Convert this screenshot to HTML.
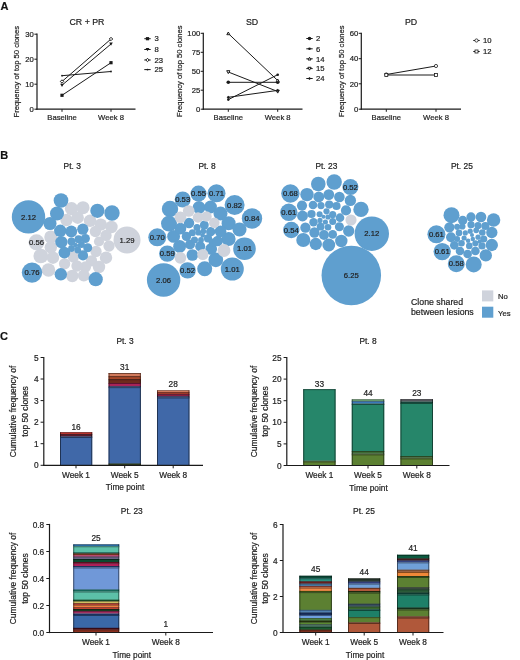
<!DOCTYPE html>
<html lang="en">
<head>
<meta charset="utf-8">
<title>Figure: TCR clone frequencies</title>
<style>
html,body{margin:0;padding:0;background:#fff;}
body{width:520px;height:660px;overflow:hidden;}
svg{display:block;filter:blur(0.4px);font-family:"Liberation Sans",Arial,Helvetica,sans-serif;fill:#222222;}
text{stroke:#222222;stroke-width:0.2px;}
</style>
</head>
<body>
<svg width="520" height="660" viewBox="0 0 520 660">
<rect x="0" y="0" width="520" height="660" fill="#ffffff"/>
<text x="0.60" y="9.80" font-size="11" text-anchor="start" font-weight="bold" fill="#111">A</text>
<line x1="37.00" y1="33.60" x2="37.00" y2="109.80" stroke="#1a1a1a" stroke-width="1.2"/>
<line x1="36.40" y1="109.20" x2="135.50" y2="109.20" stroke="#1a1a1a" stroke-width="1.2"/>
<line x1="34.40" y1="34.20" x2="37.00" y2="34.20" stroke="#1a1a1a" stroke-width="1.0"/>
<text x="33.90" y="36.95" font-size="7.7" text-anchor="end">30</text>
<line x1="34.40" y1="59.20" x2="37.00" y2="59.20" stroke="#1a1a1a" stroke-width="1.0"/>
<text x="33.90" y="61.95" font-size="7.7" text-anchor="end">20</text>
<line x1="34.40" y1="84.20" x2="37.00" y2="84.20" stroke="#1a1a1a" stroke-width="1.0"/>
<text x="33.90" y="86.95" font-size="7.7" text-anchor="end">10</text>
<line x1="34.40" y1="109.20" x2="37.00" y2="109.20" stroke="#1a1a1a" stroke-width="1.0"/>
<text x="33.90" y="111.95" font-size="7.7" text-anchor="end">0</text>
<line x1="62.00" y1="109.20" x2="62.00" y2="111.80" stroke="#1a1a1a" stroke-width="1.0"/>
<line x1="111.00" y1="109.20" x2="111.00" y2="111.80" stroke="#1a1a1a" stroke-width="1.0"/>
<text x="62.00" y="119.80" font-size="7.7" text-anchor="middle">Baseline</text>
<text x="111.00" y="119.80" font-size="7.7" text-anchor="middle">Week 8</text>
<text x="87.00" y="25.00" font-size="8.8" text-anchor="middle">CR + PR</text>
<text x="19.20" y="71.70" font-size="7.6" text-anchor="middle" transform="rotate(-90 19.20 71.70)">Frequency of top 50 clones</text>
<line x1="62.00" y1="95.30" x2="111.00" y2="62.70" stroke="#1a1a1a" stroke-width="1.0"/>
<line x1="62.00" y1="85.20" x2="111.00" y2="44.00" stroke="#1a1a1a" stroke-width="1.0"/>
<line x1="62.00" y1="81.50" x2="111.00" y2="39.00" stroke="#1a1a1a" stroke-width="1.0"/>
<line x1="62.00" y1="75.70" x2="111.00" y2="71.50" stroke="#1a1a1a" stroke-width="1.0"/>
<rect x="60.40" y="93.70" width="3.2" height="3.2" fill="#1a1a1a"/>
<rect x="109.40" y="61.10" width="3.2" height="3.2" fill="#1a1a1a"/>
<path d="M60.20 83.80L63.80 83.80L62.00 87.00Z" fill="#1a1a1a"/>
<path d="M109.20 42.60L112.80 42.60L111.00 45.80Z" fill="#1a1a1a"/>
<path d="M62.00 79.80L63.70 81.50L62.00 83.20L60.30 81.50Z" fill="#fff" stroke="#1a1a1a" stroke-width="1"/>
<path d="M111.00 37.30L112.70 39.00L111.00 40.70L109.30 39.00Z" fill="#fff" stroke="#1a1a1a" stroke-width="1"/>
<circle cx="62.00" cy="75.70" r="0.9" fill="#1a1a1a"/>
<circle cx="111.00" cy="71.50" r="0.9" fill="#1a1a1a"/>
<line x1="144.30" y1="38.70" x2="150.70" y2="38.70" stroke="#1a1a1a" stroke-width="1.0"/>
<rect x="145.90" y="37.10" width="3.2" height="3.2" fill="#1a1a1a"/>
<text x="154.50" y="41.40" font-size="7.7" text-anchor="start">3</text>
<line x1="144.30" y1="49.50" x2="150.70" y2="49.50" stroke="#1a1a1a" stroke-width="1.0"/>
<path d="M145.70 48.10L149.30 48.10L147.50 51.30Z" fill="#1a1a1a"/>
<text x="154.50" y="52.20" font-size="7.7" text-anchor="start">8</text>
<line x1="144.30" y1="60.00" x2="150.70" y2="60.00" stroke="#1a1a1a" stroke-width="1.0"/>
<path d="M147.50 58.30L149.20 60.00L147.50 61.70L145.80 60.00Z" fill="#fff" stroke="#1a1a1a" stroke-width="1"/>
<text x="154.50" y="62.70" font-size="7.7" text-anchor="start">23</text>
<line x1="144.30" y1="69.60" x2="150.70" y2="69.60" stroke="#1a1a1a" stroke-width="1.0"/>
<circle cx="147.50" cy="69.60" r="0.9" fill="#1a1a1a"/>
<text x="154.50" y="72.30" font-size="7.7" text-anchor="start">25</text>
<line x1="203.30" y1="32.70" x2="203.30" y2="109.80" stroke="#1a1a1a" stroke-width="1.2"/>
<line x1="202.70" y1="109.20" x2="302.50" y2="109.20" stroke="#1a1a1a" stroke-width="1.2"/>
<line x1="200.70" y1="33.30" x2="203.30" y2="33.30" stroke="#1a1a1a" stroke-width="1.0"/>
<text x="200.20" y="36.05" font-size="7.7" text-anchor="end">100</text>
<line x1="200.70" y1="52.30" x2="203.30" y2="52.30" stroke="#1a1a1a" stroke-width="1.0"/>
<text x="200.20" y="55.05" font-size="7.7" text-anchor="end">75</text>
<line x1="200.70" y1="71.30" x2="203.30" y2="71.30" stroke="#1a1a1a" stroke-width="1.0"/>
<text x="200.20" y="74.05" font-size="7.7" text-anchor="end">50</text>
<line x1="200.70" y1="90.20" x2="203.30" y2="90.20" stroke="#1a1a1a" stroke-width="1.0"/>
<text x="200.20" y="92.95" font-size="7.7" text-anchor="end">25</text>
<line x1="200.70" y1="109.20" x2="203.30" y2="109.20" stroke="#1a1a1a" stroke-width="1.0"/>
<text x="200.20" y="111.95" font-size="7.7" text-anchor="end">0</text>
<line x1="228.30" y1="109.20" x2="228.30" y2="111.80" stroke="#1a1a1a" stroke-width="1.0"/>
<line x1="277.70" y1="109.20" x2="277.70" y2="111.80" stroke="#1a1a1a" stroke-width="1.0"/>
<text x="228.30" y="119.80" font-size="7.7" text-anchor="middle">Baseline</text>
<text x="277.70" y="119.80" font-size="7.7" text-anchor="middle">Week 8</text>
<text x="252.00" y="25.00" font-size="8.8" text-anchor="middle">SD</text>
<text x="182.30" y="71.25" font-size="7.6" text-anchor="middle" transform="rotate(-90 182.30 71.25)">Frequency of top 50 clones</text>
<line x1="228.30" y1="82.30" x2="277.70" y2="82.30" stroke="#1a1a1a" stroke-width="1.0"/>
<line x1="228.30" y1="99.60" x2="277.70" y2="74.70" stroke="#1a1a1a" stroke-width="1.0"/>
<line x1="228.30" y1="33.50" x2="277.70" y2="80.50" stroke="#1a1a1a" stroke-width="1.0"/>
<line x1="228.30" y1="72.00" x2="277.70" y2="91.50" stroke="#1a1a1a" stroke-width="1.0"/>
<line x1="228.30" y1="97.30" x2="277.70" y2="90.40" stroke="#1a1a1a" stroke-width="1.0"/>
<circle cx="228.30" cy="82.30" r="1.8" fill="#1a1a1a"/>
<circle cx="277.70" cy="82.30" r="1.8" fill="#1a1a1a"/>
<circle cx="228.30" cy="99.60" r="1.3" fill="#1a1a1a"/>
<circle cx="277.70" cy="74.70" r="1.3" fill="#1a1a1a"/>
<path d="M226.80 34.70L229.80 34.70L228.30 32.00Z" fill="#fff" stroke="#1a1a1a" stroke-width="1"/>
<path d="M276.20 81.70L279.20 81.70L277.70 79.00Z" fill="#fff" stroke="#1a1a1a" stroke-width="1"/>
<path d="M226.70 70.70L229.90 70.70L228.30 73.60Z" fill="#fff" stroke="#1a1a1a" stroke-width="1"/>
<path d="M276.10 90.20L279.30 90.20L277.70 93.10Z" fill="#fff" stroke="#1a1a1a" stroke-width="1"/>
<path d="M228.30 95.70L229.90 97.30L228.30 98.90L226.70 97.30Z" fill="#1a1a1a"/>
<path d="M277.70 88.80L279.30 90.40L277.70 92.00L276.10 90.40Z" fill="#1a1a1a"/>
<line x1="306.30" y1="38.50" x2="312.70" y2="38.50" stroke="#1a1a1a" stroke-width="1.0"/>
<circle cx="309.50" cy="38.50" r="1.8" fill="#1a1a1a"/>
<text x="316.00" y="41.20" font-size="7.7" text-anchor="start">2</text>
<line x1="306.30" y1="48.80" x2="312.70" y2="48.80" stroke="#1a1a1a" stroke-width="1.0"/>
<circle cx="309.50" cy="48.80" r="1.3" fill="#1a1a1a"/>
<text x="316.00" y="51.50" font-size="7.7" text-anchor="start">6</text>
<line x1="306.30" y1="58.80" x2="312.70" y2="58.80" stroke="#1a1a1a" stroke-width="1.0"/>
<path d="M308.00 60.00L311.00 60.00L309.50 57.30Z" fill="#fff" stroke="#1a1a1a" stroke-width="1"/>
<text x="316.00" y="61.50" font-size="7.7" text-anchor="start">14</text>
<line x1="306.30" y1="68.60" x2="312.70" y2="68.60" stroke="#1a1a1a" stroke-width="1.0"/>
<path d="M307.90 67.30L311.10 67.30L309.50 70.20Z" fill="#fff" stroke="#1a1a1a" stroke-width="1"/>
<text x="316.00" y="71.30" font-size="7.7" text-anchor="start">15</text>
<line x1="306.30" y1="78.50" x2="312.70" y2="78.50" stroke="#1a1a1a" stroke-width="1.0"/>
<path d="M309.50 76.90L311.10 78.50L309.50 80.10L307.90 78.50Z" fill="#1a1a1a"/>
<text x="316.00" y="81.20" font-size="7.7" text-anchor="start">24</text>
<line x1="361.30" y1="32.70" x2="361.30" y2="109.80" stroke="#1a1a1a" stroke-width="1.2"/>
<line x1="360.70" y1="109.20" x2="461.00" y2="109.20" stroke="#1a1a1a" stroke-width="1.2"/>
<line x1="358.70" y1="33.30" x2="361.30" y2="33.30" stroke="#1a1a1a" stroke-width="1.0"/>
<text x="358.20" y="36.05" font-size="7.7" text-anchor="end">60</text>
<line x1="358.70" y1="58.70" x2="361.30" y2="58.70" stroke="#1a1a1a" stroke-width="1.0"/>
<text x="358.20" y="61.45" font-size="7.7" text-anchor="end">40</text>
<line x1="358.70" y1="83.80" x2="361.30" y2="83.80" stroke="#1a1a1a" stroke-width="1.0"/>
<text x="358.20" y="86.55" font-size="7.7" text-anchor="end">20</text>
<line x1="358.70" y1="109.20" x2="361.30" y2="109.20" stroke="#1a1a1a" stroke-width="1.0"/>
<text x="358.20" y="111.95" font-size="7.7" text-anchor="end">0</text>
<line x1="386.30" y1="109.20" x2="386.30" y2="111.80" stroke="#1a1a1a" stroke-width="1.0"/>
<line x1="436.00" y1="109.20" x2="436.00" y2="111.80" stroke="#1a1a1a" stroke-width="1.0"/>
<text x="386.30" y="119.80" font-size="7.7" text-anchor="middle">Baseline</text>
<text x="436.00" y="119.80" font-size="7.7" text-anchor="middle">Week 8</text>
<text x="411.00" y="25.00" font-size="8.8" text-anchor="middle">PD</text>
<text x="344.20" y="71.25" font-size="7.6" text-anchor="middle" transform="rotate(-90 344.20 71.25)">Frequency of top 50 clones</text>
<line x1="386.30" y1="74.50" x2="436.00" y2="66.00" stroke="#1a1a1a" stroke-width="1.0"/>
<line x1="386.30" y1="75.00" x2="436.00" y2="75.00" stroke="#1a1a1a" stroke-width="1.0"/>
<circle cx="386.30" cy="74.50" r="1.6" fill="#fff" stroke="#1a1a1a" stroke-width="0.8"/>
<circle cx="436.00" cy="66.00" r="1.6" fill="#fff" stroke="#1a1a1a" stroke-width="0.8"/>
<rect x="384.80" y="73.50" width="3" height="3" fill="#fff" stroke="#1a1a1a" stroke-width="0.8"/>
<rect x="434.50" y="73.50" width="3" height="3" fill="#fff" stroke="#1a1a1a" stroke-width="0.8"/>
<line x1="473.30" y1="40.50" x2="479.70" y2="40.50" stroke="#1a1a1a" stroke-width="1.0"/>
<circle cx="476.50" cy="40.50" r="1.6" fill="#fff" stroke="#1a1a1a" stroke-width="0.8"/>
<text x="483.00" y="43.20" font-size="7.7" text-anchor="start">10</text>
<line x1="473.30" y1="51.50" x2="479.70" y2="51.50" stroke="#1a1a1a" stroke-width="1.0"/>
<rect x="475.00" y="50.00" width="3" height="3" fill="#fff" stroke="#1a1a1a" stroke-width="0.8"/>
<text x="483.00" y="54.20" font-size="7.7" text-anchor="start">12</text>
<text x="0.20" y="159.00" font-size="11" text-anchor="start" font-weight="bold" fill="#111">B</text>
<text x="72.20" y="169.20" font-size="8.4" text-anchor="middle">Pt. 3</text>
<text x="207.00" y="169.20" font-size="8.4" text-anchor="middle">Pt. 8</text>
<text x="326.40" y="169.20" font-size="8.4" text-anchor="middle">Pt. 23</text>
<text x="461.90" y="169.20" font-size="8.4" text-anchor="middle">Pt. 25</text>
<circle cx="36.5" cy="242.3" r="8.0" fill="#cfd3dc"/>
<circle cx="71.5" cy="208.6" r="6.67" fill="#cfd3dc"/>
<circle cx="66.5" cy="220" r="6.21" fill="#cfd3dc"/>
<circle cx="50.8" cy="237" r="6.55" fill="#cfd3dc"/>
<circle cx="50.8" cy="247.3" r="6.21" fill="#cfd3dc"/>
<circle cx="40.8" cy="256" r="7.34" fill="#cfd3dc"/>
<circle cx="53" cy="257.7" r="6.21" fill="#cfd3dc"/>
<circle cx="48.5" cy="270" r="6.78" fill="#cfd3dc"/>
<circle cx="64.6" cy="263.8" r="5.65" fill="#cfd3dc"/>
<circle cx="72.3" cy="276" r="6.21" fill="#cfd3dc"/>
<circle cx="73.4" cy="257" r="5.65" fill="#cfd3dc"/>
<circle cx="127" cy="240" r="13.5" fill="#cfd3dc"/>
<circle cx="83" cy="207.7" r="6.55" fill="#cfd3dc"/>
<circle cx="77.7" cy="217.7" r="6.21" fill="#cfd3dc"/>
<circle cx="90" cy="220.8" r="6.21" fill="#cfd3dc"/>
<circle cx="100.8" cy="224.6" r="6.21" fill="#cfd3dc"/>
<circle cx="111.5" cy="227" r="6.21" fill="#cfd3dc"/>
<circle cx="95.4" cy="231.5" r="5.65" fill="#cfd3dc"/>
<circle cx="106" cy="235.4" r="5.65" fill="#cfd3dc"/>
<circle cx="99" cy="241.5" r="5.08" fill="#cfd3dc"/>
<circle cx="109" cy="246" r="5.65" fill="#cfd3dc"/>
<circle cx="96" cy="251.5" r="5.65" fill="#cfd3dc"/>
<circle cx="106" cy="257.7" r="6.21" fill="#cfd3dc"/>
<circle cx="91.5" cy="260.8" r="5.65" fill="#cfd3dc"/>
<circle cx="99" cy="267" r="6.21" fill="#cfd3dc"/>
<circle cx="85.4" cy="267" r="5.65" fill="#cfd3dc"/>
<circle cx="77" cy="266" r="5.65" fill="#cfd3dc"/>
<circle cx="83.8" cy="275.4" r="5.99" fill="#cfd3dc"/>
<circle cx="163.6" cy="280" r="16.7" fill="#5f9fcf"/>
<circle cx="187.6" cy="270.4" r="8.2" fill="#5f9fcf"/>
<circle cx="167.3" cy="253.6" r="8.2" fill="#5f9fcf"/>
<circle cx="157.3" cy="237.3" r="9.0" fill="#5f9fcf"/>
<circle cx="170" cy="209" r="8.19" fill="#5f9fcf"/>
<circle cx="182.7" cy="199.5" r="8.0" fill="#5f9fcf"/>
<circle cx="198.5" cy="193.6" r="8.0" fill="#5f9fcf"/>
<circle cx="216.5" cy="193.3" r="9.0" fill="#5f9fcf"/>
<circle cx="169" cy="223.6" r="7.96" fill="#5f9fcf"/>
<circle cx="173.6" cy="236.4" r="6.43" fill="#5f9fcf"/>
<circle cx="179.6" cy="246.4" r="6.43" fill="#5f9fcf"/>
<circle cx="180.4" cy="228.7" r="5.85" fill="#5f9fcf"/>
<circle cx="189" cy="223" r="5.26" fill="#5f9fcf"/>
<circle cx="192.4" cy="255" r="5.85" fill="#5f9fcf"/>
<circle cx="204.7" cy="268.8" r="7.5" fill="#5f9fcf"/>
<circle cx="215.8" cy="259.8" r="7.37" fill="#5f9fcf"/>
<circle cx="199" cy="207.5" r="6.43" fill="#5f9fcf"/>
<circle cx="210.5" cy="207" r="6.43" fill="#5f9fcf"/>
<circle cx="186.4" cy="236.4" r="4.68" fill="#5f9fcf"/>
<circle cx="190" cy="244.5" r="5.03" fill="#5f9fcf"/>
<circle cx="200.2" cy="246.4" r="5.03" fill="#5f9fcf"/>
<circle cx="211.2" cy="249" r="5.85" fill="#5f9fcf"/>
<circle cx="204.3" cy="225" r="4.45" fill="#5f9fcf"/>
<circle cx="197" cy="227.6" r="3.51" fill="#5f9fcf"/>
<circle cx="210.7" cy="231.8" r="4.68" fill="#5f9fcf"/>
<circle cx="192.4" cy="232.7" r="3.51" fill="#5f9fcf"/>
<circle cx="194.5" cy="240" r="3.51" fill="#5f9fcf"/>
<circle cx="201" cy="240" r="2.92" fill="#5f9fcf"/>
<circle cx="208" cy="238.4" r="4.09" fill="#5f9fcf"/>
<circle cx="212.8" cy="242.7" r="4.09" fill="#5f9fcf"/>
<circle cx="198.5" cy="232.7" r="2.92" fill="#5f9fcf"/>
<circle cx="203.3" cy="231.3" r="2.92" fill="#5f9fcf"/>
<circle cx="202.7" cy="235.5" r="2.34" fill="#5f9fcf"/>
<circle cx="234.6" cy="205" r="10.0" fill="#5f9fcf"/>
<circle cx="252" cy="218.5" r="10.2" fill="#5f9fcf"/>
<circle cx="244.5" cy="248.7" r="11.3" fill="#5f9fcf"/>
<circle cx="232.3" cy="269" r="11.5" fill="#5f9fcf"/>
<circle cx="220.5" cy="213.6" r="7.02" fill="#5f9fcf"/>
<circle cx="228.6" cy="223.3" r="7.02" fill="#5f9fcf"/>
<circle cx="239.5" cy="229.5" r="7.02" fill="#5f9fcf"/>
<circle cx="228.6" cy="239" r="7.02" fill="#5f9fcf"/>
<circle cx="220.5" cy="231.3" r="5.85" fill="#5f9fcf"/>
<circle cx="217.7" cy="241" r="5.26" fill="#5f9fcf"/>
<circle cx="351.3" cy="275.4" r="29.75" fill="#5f9fcf"/>
<circle cx="371.8" cy="233.7" r="17.2" fill="#5f9fcf"/>
<circle cx="290.4" cy="193.5" r="9.2" fill="#5f9fcf"/>
<circle cx="288.8" cy="212.3" r="8.7" fill="#5f9fcf"/>
<circle cx="291.3" cy="230" r="8.2" fill="#5f9fcf"/>
<circle cx="350.4" cy="187" r="8.0" fill="#5f9fcf"/>
<circle cx="318.3" cy="184" r="7.3" fill="#5f9fcf"/>
<circle cx="334.2" cy="182" r="7.7" fill="#5f9fcf"/>
<circle cx="307" cy="194.6" r="6.7" fill="#5f9fcf"/>
<circle cx="318.8" cy="197" r="5.46" fill="#5f9fcf"/>
<circle cx="328.8" cy="194.6" r="5.36" fill="#5f9fcf"/>
<circle cx="339.4" cy="197" r="5.32" fill="#5f9fcf"/>
<circle cx="350.4" cy="200.4" r="5.66" fill="#5f9fcf"/>
<circle cx="361" cy="209.4" r="7.7" fill="#5f9fcf"/>
<circle cx="346" cy="210.4" r="5.09" fill="#5f9fcf"/>
<circle cx="348.7" cy="231" r="5.66" fill="#5f9fcf"/>
<circle cx="341.3" cy="241" r="6.19" fill="#5f9fcf"/>
<circle cx="328.8" cy="245" r="6.4" fill="#5f9fcf"/>
<circle cx="315.8" cy="244" r="6.18" fill="#5f9fcf"/>
<circle cx="303.3" cy="240" r="7.04" fill="#5f9fcf"/>
<circle cx="302" cy="205.6" r="5.07" fill="#5f9fcf"/>
<circle cx="302.5" cy="216" r="5.46" fill="#5f9fcf"/>
<circle cx="305.4" cy="227.7" r="5.15" fill="#5f9fcf"/>
<circle cx="314.4" cy="232.5" r="5.15" fill="#5f9fcf"/>
<circle cx="324" cy="235" r="4.94" fill="#5f9fcf"/>
<circle cx="332.7" cy="234.4" r="4.33" fill="#5f9fcf"/>
<circle cx="339.4" cy="226.7" r="4.54" fill="#5f9fcf"/>
<circle cx="340" cy="217.7" r="4.33" fill="#5f9fcf"/>
<circle cx="336.5" cy="206" r="4.12" fill="#5f9fcf"/>
<circle cx="329.2" cy="204.6" r="4.12" fill="#5f9fcf"/>
<circle cx="321" cy="205.6" r="3.6" fill="#5f9fcf"/>
<circle cx="313" cy="205" r="4.33" fill="#5f9fcf"/>
<circle cx="311.5" cy="214" r="4.12" fill="#5f9fcf"/>
<circle cx="313.5" cy="222.3" r="4.21" fill="#5f9fcf"/>
<circle cx="320.6" cy="226.7" r="3.91" fill="#5f9fcf"/>
<circle cx="328" cy="227.3" r="3.31" fill="#5f9fcf"/>
<circle cx="332.7" cy="221.5" r="3.5" fill="#5f9fcf"/>
<circle cx="332.7" cy="214.6" r="3.6" fill="#5f9fcf"/>
<circle cx="326.5" cy="211.3" r="3.11" fill="#5f9fcf"/>
<circle cx="319.6" cy="214.2" r="3.01" fill="#5f9fcf"/>
<circle cx="320" cy="220.4" r="2.58" fill="#5f9fcf"/>
<circle cx="325.4" cy="222" r="2.6" fill="#5f9fcf"/>
<circle cx="328" cy="217" r="2.58" fill="#5f9fcf"/>
<circle cx="323.5" cy="216.7" r="2.06" fill="#5f9fcf"/>
<circle cx="436.4" cy="234.3" r="9.0" fill="#5f9fcf"/>
<circle cx="442.2" cy="251.6" r="8.7" fill="#5f9fcf"/>
<circle cx="456.3" cy="263.7" r="8.5" fill="#5f9fcf"/>
<circle cx="451.5" cy="215.2" r="8.0" fill="#5f9fcf"/>
<circle cx="473.7" cy="264.4" r="8.0" fill="#5f9fcf"/>
<circle cx="493.6" cy="220" r="6.7" fill="#5f9fcf"/>
<circle cx="481" cy="217" r="5.33" fill="#5f9fcf"/>
<circle cx="471" cy="217" r="4.63" fill="#5f9fcf"/>
<circle cx="462.7" cy="220.4" r="4.63" fill="#5f9fcf"/>
<circle cx="449.4" cy="227.3" r="5.15" fill="#5f9fcf"/>
<circle cx="451" cy="237.2" r="4.94" fill="#5f9fcf"/>
<circle cx="454.3" cy="245.3" r="4.33" fill="#5f9fcf"/>
<circle cx="460" cy="251" r="4.33" fill="#5f9fcf"/>
<circle cx="467.6" cy="254" r="4.33" fill="#5f9fcf"/>
<circle cx="475.4" cy="251" r="4.33" fill="#5f9fcf"/>
<circle cx="485.8" cy="255.4" r="6.18" fill="#5f9fcf"/>
<circle cx="491.8" cy="245" r="6.18" fill="#5f9fcf"/>
<circle cx="491.8" cy="232.5" r="5.66" fill="#5f9fcf"/>
<circle cx="485.4" cy="226" r="4.12" fill="#5f9fcf"/>
<circle cx="478" cy="225.6" r="3.6" fill="#5f9fcf"/>
<circle cx="471" cy="224.7" r="3.6" fill="#5f9fcf"/>
<circle cx="462.4" cy="226.5" r="3.09" fill="#5f9fcf"/>
<circle cx="457.2" cy="226.8" r="3.09" fill="#5f9fcf"/>
<circle cx="459" cy="232.9" r="3.3" fill="#5f9fcf"/>
<circle cx="457.2" cy="239" r="2.88" fill="#5f9fcf"/>
<circle cx="461.5" cy="243.3" r="3.3" fill="#5f9fcf"/>
<circle cx="469.3" cy="245.9" r="3.3" fill="#5f9fcf"/>
<circle cx="475.4" cy="243.3" r="3.09" fill="#5f9fcf"/>
<circle cx="482" cy="245.9" r="3.6" fill="#5f9fcf"/>
<circle cx="483.7" cy="239" r="3.6" fill="#5f9fcf"/>
<circle cx="482.3" cy="232.5" r="3.3" fill="#5f9fcf"/>
<circle cx="476.2" cy="230.3" r="2.88" fill="#5f9fcf"/>
<circle cx="470.2" cy="231.2" r="2.58" fill="#5f9fcf"/>
<circle cx="465.3" cy="232.9" r="2.58" fill="#5f9fcf"/>
<circle cx="464.1" cy="238" r="2.58" fill="#5f9fcf"/>
<circle cx="468.1" cy="240.7" r="2.27" fill="#5f9fcf"/>
<circle cx="472.8" cy="239" r="2.27" fill="#5f9fcf"/>
<circle cx="478" cy="237.2" r="2.58" fill="#5f9fcf"/>
<circle cx="472" cy="235" r="2.06" fill="#5f9fcf"/>
<circle cx="479.7" cy="241.5" r="2.06" fill="#5f9fcf"/>
<circle cx="28.5" cy="216.9" r="16.7" fill="#5f9fcf"/>
<circle cx="32" cy="272.6" r="10.2" fill="#5f9fcf"/>
<circle cx="61" cy="200.5" r="7.34" fill="#5f9fcf"/>
<circle cx="57" cy="213.5" r="7.01" fill="#5f9fcf"/>
<circle cx="50" cy="223.5" r="6.55" fill="#5f9fcf"/>
<circle cx="60.3" cy="230.8" r="6.21" fill="#5f9fcf"/>
<circle cx="71.3" cy="231.5" r="5.88" fill="#5f9fcf"/>
<circle cx="61.4" cy="242.1" r="6.21" fill="#5f9fcf"/>
<circle cx="64.4" cy="252.6" r="5.88" fill="#5f9fcf"/>
<circle cx="60.8" cy="274.3" r="6.21" fill="#5f9fcf"/>
<circle cx="97.4" cy="210.8" r="7.12" fill="#5f9fcf"/>
<circle cx="112" cy="213" r="7.68" fill="#5f9fcf"/>
<circle cx="95.7" cy="279.2" r="7.12" fill="#5f9fcf"/>
<circle cx="82.8" cy="229.2" r="5.65" fill="#5f9fcf"/>
<circle cx="83" cy="255.4" r="5.08" fill="#5f9fcf"/>
<circle cx="87.7" cy="247.7" r="4.52" fill="#5f9fcf"/>
<circle cx="85.4" cy="238.5" r="4.52" fill="#5f9fcf"/>
<circle cx="78.5" cy="239.2" r="3.95" fill="#5f9fcf"/>
<circle cx="71.5" cy="241.5" r="3.95" fill="#5f9fcf"/>
<circle cx="71.5" cy="248.5" r="3.39" fill="#5f9fcf"/>
<circle cx="77.7" cy="250" r="3.39" fill="#5f9fcf"/>
<circle cx="81.5" cy="244.6" r="3.39" fill="#5f9fcf"/>
<circle cx="75.4" cy="245" r="2.26" fill="#5f9fcf"/>
<circle cx="78.5" cy="245.5" r="1.69" fill="#5f9fcf"/>
<circle cx="188.7" cy="211" r="5.85" fill="#cfd3dc"/>
<circle cx="180.4" cy="217.3" r="5.85" fill="#cfd3dc"/>
<circle cx="198" cy="217.4" r="5.26" fill="#cfd3dc"/>
<circle cx="206.5" cy="216.4" r="5.26" fill="#cfd3dc"/>
<circle cx="214.3" cy="222.7" r="5.26" fill="#cfd3dc"/>
<circle cx="180.4" cy="257.8" r="5.85" fill="#cfd3dc"/>
<circle cx="202.8" cy="254.5" r="5.62" fill="#cfd3dc"/>
<circle cx="224" cy="250.5" r="6.43" fill="#cfd3dc"/>
<circle cx="351" cy="220" r="5.55" fill="#cfd3dc"/>
<text x="28.50" y="219.70" font-size="7.7" text-anchor="middle">2.12</text>
<text x="36.50" y="245.00" font-size="7.7" text-anchor="middle">0.56</text>
<text x="32.00" y="275.30" font-size="7.7" text-anchor="middle">0.76</text>
<text x="127.00" y="242.70" font-size="7.7" text-anchor="middle">1.29</text>
<text x="163.60" y="283.20" font-size="7.7" text-anchor="middle">2.06</text>
<text x="187.60" y="273.10" font-size="7.7" text-anchor="middle">0.52</text>
<text x="167.30" y="256.30" font-size="7.7" text-anchor="middle">0.59</text>
<text x="157.30" y="240.00" font-size="7.7" text-anchor="middle">0.70</text>
<text x="182.70" y="202.20" font-size="7.7" text-anchor="middle">0.53</text>
<text x="198.50" y="196.30" font-size="7.7" text-anchor="middle">0.55</text>
<text x="216.50" y="196.00" font-size="7.7" text-anchor="middle">0.71</text>
<text x="234.60" y="207.70" font-size="7.7" text-anchor="middle">0.82</text>
<text x="252.00" y="221.20" font-size="7.7" text-anchor="middle">0.84</text>
<text x="244.50" y="251.40" font-size="7.7" text-anchor="middle">1.01</text>
<text x="232.30" y="271.70" font-size="7.7" text-anchor="middle">1.01</text>
<text x="290.40" y="196.20" font-size="7.7" text-anchor="middle">0.68</text>
<text x="288.80" y="215.00" font-size="7.7" text-anchor="middle">0.61</text>
<text x="291.30" y="232.70" font-size="7.7" text-anchor="middle">0.54</text>
<text x="350.40" y="189.70" font-size="7.7" text-anchor="middle">0.52</text>
<text x="371.80" y="236.40" font-size="7.7" text-anchor="middle">2.12</text>
<text x="351.30" y="278.10" font-size="7.7" text-anchor="middle">6.25</text>
<text x="436.40" y="237.00" font-size="7.7" text-anchor="middle">0.61</text>
<text x="442.20" y="254.30" font-size="7.7" text-anchor="middle">0.61</text>
<text x="456.30" y="266.40" font-size="7.7" text-anchor="middle">0.58</text>
<text x="411.00" y="305.20" font-size="8.75" text-anchor="start">Clone shared</text>
<text x="411.00" y="315.20" font-size="8.75" text-anchor="start">between lesions</text>
<rect x="482" y="290.4" width="11.3" height="11" fill="#cfd3dc"/>
<rect x="482" y="306.7" width="11.3" height="11" fill="#5f9fcf"/>
<text x="498.00" y="299.40" font-size="7.7" text-anchor="start">No</text>
<text x="498.00" y="315.80" font-size="7.7" text-anchor="start">Yes</text>
<text x="0.10" y="339.80" font-size="11" text-anchor="start" font-weight="bold" fill="#111">C</text>
<rect x="60.00" y="432.30" width="32.20" height="2.05" fill="#b8332e"/>
<rect x="60.00" y="434.20" width="32.20" height="2.25" fill="#5a1a2a"/>
<rect x="60.00" y="436.30" width="32.20" height="0.85" fill="#20305a"/>
<rect x="60.00" y="437.00" width="32.20" height="28.45" fill="#4068a8"/>
<rect x="60.00" y="432.30" width="0.9" height="2.00" fill="#521614"/>
<rect x="91.30" y="432.30" width="0.9" height="2.00" fill="#521614"/>
<rect x="60.00" y="432.30" width="32.20" height="0.55" fill="#521614"/>
<rect x="60.00" y="434.20" width="0.9" height="2.20" fill="#280b12"/>
<rect x="91.30" y="434.20" width="0.9" height="2.20" fill="#280b12"/>
<rect x="60.00" y="434.20" width="32.20" height="0.55" fill="#280b12"/>
<rect x="60.00" y="436.30" width="0.9" height="0.80" fill="#0e1528"/>
<rect x="91.30" y="436.30" width="0.9" height="0.80" fill="#0e1528"/>
<rect x="60.00" y="437.00" width="0.9" height="28.40" fill="#1c2e4b"/>
<rect x="91.30" y="437.00" width="0.9" height="28.40" fill="#1c2e4b"/>
<rect x="60.00" y="437.00" width="32.20" height="0.8" fill="#1c2e4b"/>
<text x="76.00" y="430.00" font-size="8.3" text-anchor="middle">16</text>
<line x1="76.00" y1="465.30" x2="76.00" y2="468.30" stroke="#1a1a1a" stroke-width="1.0"/>
<text x="76.00" y="477.80" font-size="8.3" text-anchor="middle">Week 1</text>
<rect x="108.60" y="373.00" width="32.20" height="3.45" fill="#d27a5c"/>
<rect x="108.60" y="376.30" width="32.20" height="3.15" fill="#a8482a"/>
<rect x="108.60" y="379.30" width="32.20" height="3.85" fill="#6e2a1c"/>
<rect x="108.60" y="383.00" width="32.20" height="3.35" fill="#a82458"/>
<rect x="108.60" y="386.20" width="32.20" height="1.25" fill="#1c2a52"/>
<rect x="108.60" y="387.30" width="32.20" height="76.55" fill="#4068a8"/>
<rect x="108.60" y="463.70" width="32.20" height="1.75" fill="#3a4a20"/>
<rect x="108.60" y="373.00" width="0.9" height="3.40" fill="#5e3629"/>
<rect x="139.90" y="373.00" width="0.9" height="3.40" fill="#5e3629"/>
<rect x="108.60" y="373.00" width="32.20" height="0.8" fill="#5e3629"/>
<rect x="108.60" y="376.30" width="0.9" height="3.10" fill="#4b2012"/>
<rect x="139.90" y="376.30" width="0.9" height="3.10" fill="#4b2012"/>
<rect x="108.60" y="376.30" width="32.20" height="0.8" fill="#4b2012"/>
<rect x="108.60" y="379.30" width="0.9" height="3.80" fill="#31120c"/>
<rect x="139.90" y="379.30" width="0.9" height="3.80" fill="#31120c"/>
<rect x="108.60" y="379.30" width="32.20" height="0.8" fill="#31120c"/>
<rect x="108.60" y="383.00" width="0.9" height="3.30" fill="#4b1027"/>
<rect x="139.90" y="383.00" width="0.9" height="3.30" fill="#4b1027"/>
<rect x="108.60" y="383.00" width="32.20" height="0.8" fill="#4b1027"/>
<rect x="108.60" y="386.20" width="0.9" height="1.20" fill="#0c1224"/>
<rect x="139.90" y="386.20" width="0.9" height="1.20" fill="#0c1224"/>
<rect x="108.60" y="387.30" width="0.9" height="76.50" fill="#1c2e4b"/>
<rect x="139.90" y="387.30" width="0.9" height="76.50" fill="#1c2e4b"/>
<rect x="108.60" y="387.30" width="32.20" height="0.8" fill="#1c2e4b"/>
<rect x="108.60" y="463.70" width="0.9" height="1.70" fill="#1a210e"/>
<rect x="139.90" y="463.70" width="0.9" height="1.70" fill="#1a210e"/>
<rect x="108.60" y="463.70" width="32.20" height="0.55" fill="#1a210e"/>
<text x="124.70" y="369.50" font-size="8.3" text-anchor="middle">31</text>
<line x1="124.70" y1="465.30" x2="124.70" y2="468.30" stroke="#1a1a1a" stroke-width="1.0"/>
<text x="124.70" y="477.80" font-size="8.3" text-anchor="middle">Week 5</text>
<rect x="157.00" y="390.40" width="32.40" height="1.95" fill="#d27a5c"/>
<rect x="157.00" y="392.20" width="32.40" height="2.15" fill="#a03a28"/>
<rect x="157.00" y="394.20" width="32.40" height="2.15" fill="#8a1c40"/>
<rect x="157.00" y="396.20" width="32.40" height="1.55" fill="#1c2a52"/>
<rect x="157.00" y="397.60" width="32.40" height="67.85" fill="#4068a8"/>
<rect x="157.00" y="390.40" width="0.9" height="1.90" fill="#5e3629"/>
<rect x="188.50" y="390.40" width="0.9" height="1.90" fill="#5e3629"/>
<rect x="157.00" y="390.40" width="32.40" height="0.55" fill="#5e3629"/>
<rect x="157.00" y="392.20" width="0.9" height="2.10" fill="#481a12"/>
<rect x="188.50" y="392.20" width="0.9" height="2.10" fill="#481a12"/>
<rect x="157.00" y="392.20" width="32.40" height="0.55" fill="#481a12"/>
<rect x="157.00" y="394.20" width="0.9" height="2.10" fill="#3e0c1c"/>
<rect x="188.50" y="394.20" width="0.9" height="2.10" fill="#3e0c1c"/>
<rect x="157.00" y="394.20" width="32.40" height="0.55" fill="#3e0c1c"/>
<rect x="157.00" y="396.20" width="0.9" height="1.50" fill="#0c1224"/>
<rect x="188.50" y="396.20" width="0.9" height="1.50" fill="#0c1224"/>
<rect x="157.00" y="397.60" width="0.9" height="67.80" fill="#1c2e4b"/>
<rect x="188.50" y="397.60" width="0.9" height="67.80" fill="#1c2e4b"/>
<rect x="157.00" y="397.60" width="32.40" height="0.8" fill="#1c2e4b"/>
<text x="173.20" y="387.00" font-size="8.3" text-anchor="middle">28</text>
<line x1="173.20" y1="465.30" x2="173.20" y2="468.30" stroke="#1a1a1a" stroke-width="1.0"/>
<text x="173.20" y="477.80" font-size="8.3" text-anchor="middle">Week 8</text>
<line x1="43.80" y1="356.90" x2="43.80" y2="465.90" stroke="#1a1a1a" stroke-width="1.2"/>
<line x1="43.20" y1="465.30" x2="203.00" y2="465.30" stroke="#1a1a1a" stroke-width="1.2"/>
<line x1="40.60" y1="357.50" x2="43.80" y2="357.50" stroke="#1a1a1a" stroke-width="1.0"/>
<text x="38.50" y="360.50" font-size="8.3" text-anchor="end">5</text>
<line x1="40.60" y1="379.00" x2="43.80" y2="379.00" stroke="#1a1a1a" stroke-width="1.0"/>
<text x="38.50" y="382.00" font-size="8.3" text-anchor="end">4</text>
<line x1="40.60" y1="400.60" x2="43.80" y2="400.60" stroke="#1a1a1a" stroke-width="1.0"/>
<text x="38.50" y="403.60" font-size="8.3" text-anchor="end">3</text>
<line x1="40.60" y1="422.20" x2="43.80" y2="422.20" stroke="#1a1a1a" stroke-width="1.0"/>
<text x="38.50" y="425.20" font-size="8.3" text-anchor="end">2</text>
<line x1="40.60" y1="443.70" x2="43.80" y2="443.70" stroke="#1a1a1a" stroke-width="1.0"/>
<text x="38.50" y="446.70" font-size="8.3" text-anchor="end">1</text>
<line x1="40.60" y1="465.30" x2="43.80" y2="465.30" stroke="#1a1a1a" stroke-width="1.0"/>
<text x="38.50" y="468.30" font-size="8.3" text-anchor="end">0</text>
<text x="125.00" y="344.00" font-size="8.4" text-anchor="middle">Pt. 3</text>
<text x="16.30" y="411.40" font-size="8.5" text-anchor="middle" transform="rotate(-90 16.30 411.40)">Cumulative frequency of</text>
<text x="27.80" y="411.40" font-size="8.5" text-anchor="middle" transform="rotate(-90 27.80 411.40)">top 50 clones</text>
<text x="125.00" y="490.00" font-size="8.3" text-anchor="middle">Time point</text>
<rect x="303.30" y="389.30" width="32.20" height="71.45" fill="#26866a"/>
<rect x="303.30" y="460.60" width="32.20" height="1.05" fill="#244a28"/>
<rect x="303.30" y="461.50" width="32.20" height="4.15" fill="#5c8032"/>
<rect x="303.30" y="389.30" width="0.9" height="71.40" fill="#113c2f"/>
<rect x="334.60" y="389.30" width="0.9" height="71.40" fill="#113c2f"/>
<rect x="303.30" y="389.30" width="32.20" height="0.8" fill="#113c2f"/>
<rect x="303.30" y="460.60" width="0.9" height="1.00" fill="#102112"/>
<rect x="334.60" y="460.60" width="0.9" height="1.00" fill="#102112"/>
<rect x="303.30" y="461.50" width="0.9" height="4.10" fill="#293916"/>
<rect x="334.60" y="461.50" width="0.9" height="4.10" fill="#293916"/>
<rect x="303.30" y="461.50" width="32.20" height="0.8" fill="#293916"/>
<text x="319.40" y="386.70" font-size="8.3" text-anchor="middle">33</text>
<line x1="319.40" y1="465.50" x2="319.40" y2="468.50" stroke="#1a1a1a" stroke-width="1.0"/>
<text x="319.40" y="478.00" font-size="8.3" text-anchor="middle">Week 1</text>
<rect x="351.80" y="399.50" width="32.40" height="2.15" fill="#6aa070"/>
<rect x="351.80" y="401.50" width="32.40" height="2.15" fill="#3a7cc0"/>
<rect x="351.80" y="403.50" width="32.40" height="0.85" fill="#14443a"/>
<rect x="351.80" y="404.20" width="32.40" height="46.95" fill="#26866a"/>
<rect x="351.80" y="451.00" width="32.40" height="2.65" fill="#3e6a34"/>
<rect x="351.80" y="453.50" width="32.40" height="1.15" fill="#24401c"/>
<rect x="351.80" y="454.50" width="32.40" height="11.15" fill="#5c8032"/>
<rect x="351.80" y="399.50" width="0.9" height="2.10" fill="#2f4832"/>
<rect x="383.30" y="399.50" width="0.9" height="2.10" fill="#2f4832"/>
<rect x="351.80" y="399.50" width="32.40" height="0.55" fill="#2f4832"/>
<rect x="351.80" y="401.50" width="0.9" height="2.10" fill="#1a3756"/>
<rect x="383.30" y="401.50" width="0.9" height="2.10" fill="#1a3756"/>
<rect x="351.80" y="401.50" width="32.40" height="0.55" fill="#1a3756"/>
<rect x="351.80" y="403.50" width="0.9" height="0.80" fill="#091e1a"/>
<rect x="383.30" y="403.50" width="0.9" height="0.80" fill="#091e1a"/>
<rect x="351.80" y="404.20" width="0.9" height="46.90" fill="#113c2f"/>
<rect x="383.30" y="404.20" width="0.9" height="46.90" fill="#113c2f"/>
<rect x="351.80" y="404.20" width="32.40" height="0.8" fill="#113c2f"/>
<rect x="351.80" y="451.00" width="0.9" height="2.60" fill="#1b2f17"/>
<rect x="383.30" y="451.00" width="0.9" height="2.60" fill="#1b2f17"/>
<rect x="351.80" y="451.00" width="32.40" height="0.55" fill="#1b2f17"/>
<rect x="351.80" y="453.50" width="0.9" height="1.10" fill="#101c0c"/>
<rect x="383.30" y="453.50" width="0.9" height="1.10" fill="#101c0c"/>
<rect x="351.80" y="454.50" width="0.9" height="11.10" fill="#293916"/>
<rect x="383.30" y="454.50" width="0.9" height="11.10" fill="#293916"/>
<rect x="351.80" y="454.50" width="32.40" height="0.8" fill="#293916"/>
<text x="368.00" y="396.00" font-size="8.3" text-anchor="middle">44</text>
<line x1="368.00" y1="465.50" x2="368.00" y2="468.50" stroke="#1a1a1a" stroke-width="1.0"/>
<text x="368.00" y="478.00" font-size="8.3" text-anchor="middle">Week 5</text>
<rect x="400.50" y="399.30" width="32.50" height="2.35" fill="#55555c"/>
<rect x="400.50" y="401.50" width="32.50" height="1.65" fill="#14443a"/>
<rect x="400.50" y="403.00" width="32.50" height="53.15" fill="#26866a"/>
<rect x="400.50" y="456.00" width="32.50" height="1.75" fill="#3e6a34"/>
<rect x="400.50" y="457.60" width="32.50" height="1.05" fill="#24401c"/>
<rect x="400.50" y="458.50" width="32.50" height="7.15" fill="#5c8032"/>
<rect x="400.50" y="399.30" width="0.9" height="2.30" fill="#262629"/>
<rect x="432.10" y="399.30" width="0.9" height="2.30" fill="#262629"/>
<rect x="400.50" y="399.30" width="32.50" height="0.55" fill="#262629"/>
<rect x="400.50" y="401.50" width="0.9" height="1.60" fill="#091e1a"/>
<rect x="432.10" y="401.50" width="0.9" height="1.60" fill="#091e1a"/>
<rect x="400.50" y="403.00" width="0.9" height="53.10" fill="#113c2f"/>
<rect x="432.10" y="403.00" width="0.9" height="53.10" fill="#113c2f"/>
<rect x="400.50" y="403.00" width="32.50" height="0.8" fill="#113c2f"/>
<rect x="400.50" y="456.00" width="0.9" height="1.70" fill="#1b2f17"/>
<rect x="432.10" y="456.00" width="0.9" height="1.70" fill="#1b2f17"/>
<rect x="400.50" y="456.00" width="32.50" height="0.55" fill="#1b2f17"/>
<rect x="400.50" y="457.60" width="0.9" height="1.00" fill="#101c0c"/>
<rect x="432.10" y="457.60" width="0.9" height="1.00" fill="#101c0c"/>
<rect x="400.50" y="458.50" width="0.9" height="7.10" fill="#293916"/>
<rect x="432.10" y="458.50" width="0.9" height="7.10" fill="#293916"/>
<rect x="400.50" y="458.50" width="32.50" height="0.8" fill="#293916"/>
<text x="416.80" y="395.50" font-size="8.3" text-anchor="middle">23</text>
<line x1="416.80" y1="465.50" x2="416.80" y2="468.50" stroke="#1a1a1a" stroke-width="1.0"/>
<text x="416.80" y="478.00" font-size="8.3" text-anchor="middle">Week 8</text>
<line x1="286.80" y1="356.90" x2="286.80" y2="466.10" stroke="#1a1a1a" stroke-width="1.2"/>
<line x1="286.20" y1="465.50" x2="449.50" y2="465.50" stroke="#1a1a1a" stroke-width="1.2"/>
<line x1="283.60" y1="357.50" x2="286.80" y2="357.50" stroke="#1a1a1a" stroke-width="1.0"/>
<text x="281.50" y="360.50" font-size="8.3" text-anchor="end">25</text>
<line x1="283.60" y1="379.10" x2="286.80" y2="379.10" stroke="#1a1a1a" stroke-width="1.0"/>
<text x="281.50" y="382.10" font-size="8.3" text-anchor="end">20</text>
<line x1="283.60" y1="400.70" x2="286.80" y2="400.70" stroke="#1a1a1a" stroke-width="1.0"/>
<text x="281.50" y="403.70" font-size="8.3" text-anchor="end">15</text>
<line x1="283.60" y1="422.30" x2="286.80" y2="422.30" stroke="#1a1a1a" stroke-width="1.0"/>
<text x="281.50" y="425.30" font-size="8.3" text-anchor="end">10</text>
<line x1="283.60" y1="443.90" x2="286.80" y2="443.90" stroke="#1a1a1a" stroke-width="1.0"/>
<text x="281.50" y="446.90" font-size="8.3" text-anchor="end">5</text>
<line x1="283.60" y1="465.50" x2="286.80" y2="465.50" stroke="#1a1a1a" stroke-width="1.0"/>
<text x="281.50" y="468.50" font-size="8.3" text-anchor="end">0</text>
<text x="368.00" y="344.00" font-size="8.4" text-anchor="middle">Pt. 8</text>
<text x="256.50" y="411.50" font-size="8.5" text-anchor="middle" transform="rotate(-90 256.50 411.50)">Cumulative frequency of</text>
<text x="268.00" y="411.50" font-size="8.5" text-anchor="middle" transform="rotate(-90 268.00 411.50)">top 50 clones</text>
<text x="368.50" y="490.50" font-size="8.3" text-anchor="middle">Time point</text>
<rect x="73.30" y="544.50" width="45.90" height="2.05" fill="#2a6ea6"/>
<rect x="73.30" y="546.40" width="45.90" height="5.85" fill="#5cc0a8"/>
<rect x="73.30" y="552.10" width="45.90" height="1.65" fill="#1a6a5a"/>
<rect x="73.30" y="553.60" width="45.90" height="1.75" fill="#7a3a20"/>
<rect x="73.30" y="555.20" width="45.90" height="1.65" fill="#b03060"/>
<rect x="73.30" y="556.70" width="45.90" height="2.45" fill="#6a6284"/>
<rect x="73.30" y="559.00" width="45.90" height="3.15" fill="#0c4a30"/>
<rect x="73.30" y="562.00" width="45.90" height="1.65" fill="#5a1020"/>
<rect x="73.30" y="563.50" width="45.90" height="2.65" fill="#b02058"/>
<rect x="73.30" y="566.00" width="45.90" height="1.75" fill="#2a4a84"/>
<rect x="73.30" y="567.60" width="45.90" height="22.25" fill="#7098d8"/>
<rect x="73.30" y="589.70" width="45.90" height="2.05" fill="#1a7a6a"/>
<rect x="73.30" y="591.60" width="45.90" height="8.35" fill="#5cc0a8"/>
<rect x="73.30" y="599.80" width="45.90" height="1.75" fill="#1a5a30"/>
<rect x="73.30" y="601.40" width="45.90" height="2.05" fill="#d0c060"/>
<rect x="73.30" y="603.30" width="45.90" height="2.05" fill="#b04030"/>
<rect x="73.30" y="605.20" width="45.90" height="2.35" fill="#f08040"/>
<rect x="73.30" y="607.40" width="45.90" height="1.75" fill="#c04030"/>
<rect x="73.30" y="609.00" width="45.90" height="2.15" fill="#1a3a20"/>
<rect x="73.30" y="611.00" width="45.90" height="2.65" fill="#a03060"/>
<rect x="73.30" y="613.50" width="45.90" height="1.65" fill="#1a3060"/>
<rect x="73.30" y="615.00" width="45.90" height="13.05" fill="#3a68a8"/>
<rect x="73.30" y="627.90" width="45.90" height="1.95" fill="#4a1020"/>
<rect x="73.30" y="629.70" width="45.90" height="2.95" fill="#8a3020"/>
<rect x="73.30" y="544.50" width="0.9" height="2.00" fill="#12314a"/>
<rect x="118.30" y="544.50" width="0.9" height="2.00" fill="#12314a"/>
<rect x="73.30" y="544.50" width="45.90" height="0.55" fill="#12314a"/>
<rect x="73.30" y="546.40" width="0.9" height="5.80" fill="#29564b"/>
<rect x="118.30" y="546.40" width="0.9" height="5.80" fill="#29564b"/>
<rect x="73.30" y="546.40" width="45.90" height="0.8" fill="#29564b"/>
<rect x="73.30" y="552.10" width="0.9" height="1.60" fill="#0b2f28"/>
<rect x="118.30" y="552.10" width="0.9" height="1.60" fill="#0b2f28"/>
<rect x="73.30" y="553.60" width="0.9" height="1.70" fill="#361a0e"/>
<rect x="118.30" y="553.60" width="0.9" height="1.70" fill="#361a0e"/>
<rect x="73.30" y="553.60" width="45.90" height="0.55" fill="#361a0e"/>
<rect x="73.30" y="555.20" width="0.9" height="1.60" fill="#4f152b"/>
<rect x="118.30" y="555.20" width="0.9" height="1.60" fill="#4f152b"/>
<rect x="73.30" y="556.70" width="0.9" height="2.40" fill="#2f2c3b"/>
<rect x="118.30" y="556.70" width="0.9" height="2.40" fill="#2f2c3b"/>
<rect x="73.30" y="556.70" width="45.90" height="0.55" fill="#2f2c3b"/>
<rect x="73.30" y="559.00" width="0.9" height="3.10" fill="#052115"/>
<rect x="118.30" y="559.00" width="0.9" height="3.10" fill="#052115"/>
<rect x="73.30" y="559.00" width="45.90" height="0.8" fill="#052115"/>
<rect x="73.30" y="562.00" width="0.9" height="1.60" fill="#28070e"/>
<rect x="118.30" y="562.00" width="0.9" height="1.60" fill="#28070e"/>
<rect x="73.30" y="563.50" width="0.9" height="2.60" fill="#4f0e27"/>
<rect x="118.30" y="563.50" width="0.9" height="2.60" fill="#4f0e27"/>
<rect x="73.30" y="563.50" width="45.90" height="0.55" fill="#4f0e27"/>
<rect x="73.30" y="566.00" width="0.9" height="1.70" fill="#12213b"/>
<rect x="118.30" y="566.00" width="0.9" height="1.70" fill="#12213b"/>
<rect x="73.30" y="566.00" width="45.90" height="0.55" fill="#12213b"/>
<rect x="73.30" y="567.60" width="0.9" height="22.20" fill="#324461"/>
<rect x="118.30" y="567.60" width="0.9" height="22.20" fill="#324461"/>
<rect x="73.30" y="567.60" width="45.90" height="0.8" fill="#324461"/>
<rect x="73.30" y="589.70" width="0.9" height="2.00" fill="#0b362f"/>
<rect x="118.30" y="589.70" width="0.9" height="2.00" fill="#0b362f"/>
<rect x="73.30" y="589.70" width="45.90" height="0.55" fill="#0b362f"/>
<rect x="73.30" y="591.60" width="0.9" height="8.30" fill="#29564b"/>
<rect x="118.30" y="591.60" width="0.9" height="8.30" fill="#29564b"/>
<rect x="73.30" y="591.60" width="45.90" height="0.8" fill="#29564b"/>
<rect x="73.30" y="599.80" width="0.9" height="1.70" fill="#0b2815"/>
<rect x="118.30" y="599.80" width="0.9" height="1.70" fill="#0b2815"/>
<rect x="73.30" y="599.80" width="45.90" height="0.55" fill="#0b2815"/>
<rect x="73.30" y="601.40" width="0.9" height="2.00" fill="#5d562b"/>
<rect x="118.30" y="601.40" width="0.9" height="2.00" fill="#5d562b"/>
<rect x="73.30" y="601.40" width="45.90" height="0.55" fill="#5d562b"/>
<rect x="73.30" y="603.30" width="0.9" height="2.00" fill="#4f1c15"/>
<rect x="118.30" y="603.30" width="0.9" height="2.00" fill="#4f1c15"/>
<rect x="73.30" y="603.30" width="45.90" height="0.55" fill="#4f1c15"/>
<rect x="73.30" y="605.20" width="0.9" height="2.30" fill="#6c391c"/>
<rect x="118.30" y="605.20" width="0.9" height="2.30" fill="#6c391c"/>
<rect x="73.30" y="605.20" width="45.90" height="0.55" fill="#6c391c"/>
<rect x="73.30" y="607.40" width="0.9" height="1.70" fill="#561c15"/>
<rect x="118.30" y="607.40" width="0.9" height="1.70" fill="#561c15"/>
<rect x="73.30" y="607.40" width="45.90" height="0.55" fill="#561c15"/>
<rect x="73.30" y="609.00" width="0.9" height="2.10" fill="#0b1a0e"/>
<rect x="118.30" y="609.00" width="0.9" height="2.10" fill="#0b1a0e"/>
<rect x="73.30" y="609.00" width="45.90" height="0.55" fill="#0b1a0e"/>
<rect x="73.30" y="611.00" width="0.9" height="2.60" fill="#48152b"/>
<rect x="118.30" y="611.00" width="0.9" height="2.60" fill="#48152b"/>
<rect x="73.30" y="611.00" width="45.90" height="0.55" fill="#48152b"/>
<rect x="73.30" y="613.50" width="0.9" height="1.60" fill="#0b152b"/>
<rect x="118.30" y="613.50" width="0.9" height="1.60" fill="#0b152b"/>
<rect x="73.30" y="615.00" width="0.9" height="13.00" fill="#1a2e4b"/>
<rect x="118.30" y="615.00" width="0.9" height="13.00" fill="#1a2e4b"/>
<rect x="73.30" y="615.00" width="45.90" height="0.8" fill="#1a2e4b"/>
<rect x="73.30" y="627.90" width="0.9" height="1.90" fill="#21070e"/>
<rect x="118.30" y="627.90" width="0.9" height="1.90" fill="#21070e"/>
<rect x="73.30" y="627.90" width="45.90" height="0.55" fill="#21070e"/>
<rect x="73.30" y="629.70" width="0.9" height="2.90" fill="#3e150e"/>
<rect x="118.30" y="629.70" width="0.9" height="2.90" fill="#3e150e"/>
<rect x="73.30" y="629.70" width="45.90" height="0.55" fill="#3e150e"/>
<text x="96.00" y="541.20" font-size="8.3" text-anchor="middle">25</text>
<line x1="96.00" y1="632.50" x2="96.00" y2="635.50" stroke="#1a1a1a" stroke-width="1.0"/>
<text x="96.00" y="645.00" font-size="8.3" text-anchor="middle">Week 1</text>
<text x="165.80" y="627.20" font-size="8.3" text-anchor="middle">1</text>
<line x1="165.80" y1="632.50" x2="165.80" y2="635.50" stroke="#1a1a1a" stroke-width="1.0"/>
<text x="165.80" y="645.00" font-size="8.3" text-anchor="middle">Week 8</text>
<line x1="49.50" y1="523.90" x2="49.50" y2="633.10" stroke="#1a1a1a" stroke-width="1.2"/>
<line x1="48.90" y1="632.50" x2="213.00" y2="632.50" stroke="#1a1a1a" stroke-width="1.2"/>
<line x1="46.30" y1="524.50" x2="49.50" y2="524.50" stroke="#1a1a1a" stroke-width="1.0"/>
<text x="44.20" y="527.50" font-size="8.3" text-anchor="end">0.8</text>
<line x1="46.30" y1="551.50" x2="49.50" y2="551.50" stroke="#1a1a1a" stroke-width="1.0"/>
<text x="44.20" y="554.50" font-size="8.3" text-anchor="end">0.6</text>
<line x1="46.30" y1="578.50" x2="49.50" y2="578.50" stroke="#1a1a1a" stroke-width="1.0"/>
<text x="44.20" y="581.50" font-size="8.3" text-anchor="end">0.4</text>
<line x1="46.30" y1="605.50" x2="49.50" y2="605.50" stroke="#1a1a1a" stroke-width="1.0"/>
<text x="44.20" y="608.50" font-size="8.3" text-anchor="end">0.2</text>
<line x1="46.30" y1="632.50" x2="49.50" y2="632.50" stroke="#1a1a1a" stroke-width="1.0"/>
<text x="44.20" y="635.50" font-size="8.3" text-anchor="end">0.0</text>
<text x="131.80" y="514.20" font-size="8.4" text-anchor="middle">Pt. 23</text>
<text x="16.30" y="578.50" font-size="8.5" text-anchor="middle" transform="rotate(-90 16.30 578.50)">Cumulative frequency of</text>
<text x="27.80" y="578.50" font-size="8.5" text-anchor="middle" transform="rotate(-90 27.80 578.50)">top 50 clones</text>
<text x="131.80" y="658.00" font-size="8.3" text-anchor="middle">Time point</text>
<rect x="299.40" y="575.80" width="32.40" height="2.75" fill="#0c4a38"/>
<rect x="299.40" y="578.40" width="32.40" height="3.25" fill="#2a9080"/>
<rect x="299.40" y="581.50" width="32.40" height="2.35" fill="#6a2020"/>
<rect x="299.40" y="583.70" width="32.40" height="2.45" fill="#4a78a0"/>
<rect x="299.40" y="586.00" width="32.40" height="1.85" fill="#b05040"/>
<rect x="299.40" y="587.70" width="32.40" height="3.35" fill="#f08848"/>
<rect x="299.40" y="590.90" width="32.40" height="1.55" fill="#3a4a10"/>
<rect x="299.40" y="592.30" width="32.40" height="17.75" fill="#5c8032"/>
<rect x="299.40" y="609.90" width="32.40" height="2.95" fill="#5080b0"/>
<rect x="299.40" y="612.70" width="32.40" height="2.45" fill="#1a3060"/>
<rect x="299.40" y="615.00" width="32.40" height="3.35" fill="#70a0e0"/>
<rect x="299.40" y="618.20" width="32.40" height="2.65" fill="#4a8040"/>
<rect x="299.40" y="620.70" width="32.40" height="1.85" fill="#2a3a10"/>
<rect x="299.40" y="622.40" width="32.40" height="2.05" fill="#5a8a30"/>
<rect x="299.40" y="624.30" width="32.40" height="2.75" fill="#4a7060"/>
<rect x="299.40" y="626.90" width="32.40" height="3.05" fill="#1a5a30"/>
<rect x="299.40" y="629.80" width="32.40" height="2.85" fill="#7a3020"/>
<rect x="299.40" y="575.80" width="0.9" height="2.70" fill="#052119"/>
<rect x="330.90" y="575.80" width="0.9" height="2.70" fill="#052119"/>
<rect x="299.40" y="575.80" width="32.40" height="0.55" fill="#052119"/>
<rect x="299.40" y="578.40" width="0.9" height="3.20" fill="#124039"/>
<rect x="330.90" y="578.40" width="0.9" height="3.20" fill="#124039"/>
<rect x="299.40" y="578.40" width="32.40" height="0.8" fill="#124039"/>
<rect x="299.40" y="581.50" width="0.9" height="2.30" fill="#2f0e0e"/>
<rect x="330.90" y="581.50" width="0.9" height="2.30" fill="#2f0e0e"/>
<rect x="299.40" y="581.50" width="32.40" height="0.55" fill="#2f0e0e"/>
<rect x="299.40" y="583.70" width="0.9" height="2.40" fill="#213648"/>
<rect x="330.90" y="583.70" width="0.9" height="2.40" fill="#213648"/>
<rect x="299.40" y="583.70" width="32.40" height="0.55" fill="#213648"/>
<rect x="299.40" y="586.00" width="0.9" height="1.80" fill="#4f241c"/>
<rect x="330.90" y="586.00" width="0.9" height="1.80" fill="#4f241c"/>
<rect x="299.40" y="586.00" width="32.40" height="0.55" fill="#4f241c"/>
<rect x="299.40" y="587.70" width="0.9" height="3.30" fill="#6c3d20"/>
<rect x="330.90" y="587.70" width="0.9" height="3.30" fill="#6c3d20"/>
<rect x="299.40" y="587.70" width="32.40" height="0.8" fill="#6c3d20"/>
<rect x="299.40" y="590.90" width="0.9" height="1.50" fill="#1a2107"/>
<rect x="330.90" y="590.90" width="0.9" height="1.50" fill="#1a2107"/>
<rect x="299.40" y="592.30" width="0.9" height="17.70" fill="#293916"/>
<rect x="330.90" y="592.30" width="0.9" height="17.70" fill="#293916"/>
<rect x="299.40" y="592.30" width="32.40" height="0.8" fill="#293916"/>
<rect x="299.40" y="609.90" width="0.9" height="2.90" fill="#24394f"/>
<rect x="330.90" y="609.90" width="0.9" height="2.90" fill="#24394f"/>
<rect x="299.40" y="609.90" width="32.40" height="0.55" fill="#24394f"/>
<rect x="299.40" y="612.70" width="0.9" height="2.40" fill="#0b152b"/>
<rect x="330.90" y="612.70" width="0.9" height="2.40" fill="#0b152b"/>
<rect x="299.40" y="612.70" width="32.40" height="0.55" fill="#0b152b"/>
<rect x="299.40" y="615.00" width="0.9" height="3.30" fill="#324864"/>
<rect x="330.90" y="615.00" width="0.9" height="3.30" fill="#324864"/>
<rect x="299.40" y="615.00" width="32.40" height="0.8" fill="#324864"/>
<rect x="299.40" y="618.20" width="0.9" height="2.60" fill="#21391c"/>
<rect x="330.90" y="618.20" width="0.9" height="2.60" fill="#21391c"/>
<rect x="299.40" y="618.20" width="32.40" height="0.55" fill="#21391c"/>
<rect x="299.40" y="620.70" width="0.9" height="1.80" fill="#121a07"/>
<rect x="330.90" y="620.70" width="0.9" height="1.80" fill="#121a07"/>
<rect x="299.40" y="620.70" width="32.40" height="0.55" fill="#121a07"/>
<rect x="299.40" y="622.40" width="0.9" height="2.00" fill="#283e15"/>
<rect x="330.90" y="622.40" width="0.9" height="2.00" fill="#283e15"/>
<rect x="299.40" y="622.40" width="32.40" height="0.55" fill="#283e15"/>
<rect x="299.40" y="624.30" width="0.9" height="2.70" fill="#21322b"/>
<rect x="330.90" y="624.30" width="0.9" height="2.70" fill="#21322b"/>
<rect x="299.40" y="624.30" width="32.40" height="0.55" fill="#21322b"/>
<rect x="299.40" y="626.90" width="0.9" height="3.00" fill="#0b2815"/>
<rect x="330.90" y="626.90" width="0.9" height="3.00" fill="#0b2815"/>
<rect x="299.40" y="626.90" width="32.40" height="0.55" fill="#0b2815"/>
<rect x="299.40" y="629.80" width="0.9" height="2.80" fill="#36150e"/>
<rect x="330.90" y="629.80" width="0.9" height="2.80" fill="#36150e"/>
<rect x="299.40" y="629.80" width="32.40" height="0.55" fill="#36150e"/>
<text x="315.70" y="572.30" font-size="8.3" text-anchor="middle">45</text>
<line x1="315.70" y1="632.50" x2="315.70" y2="635.50" stroke="#1a1a1a" stroke-width="1.0"/>
<text x="315.70" y="645.00" font-size="8.3" text-anchor="middle">Week 1</text>
<rect x="348.00" y="578.50" width="32.20" height="3.35" fill="#2a3a30"/>
<rect x="348.00" y="581.70" width="32.20" height="2.15" fill="#3a4a90"/>
<rect x="348.00" y="583.70" width="32.20" height="4.35" fill="#70a0d8"/>
<rect x="348.00" y="587.90" width="32.20" height="3.25" fill="#b0583a"/>
<rect x="348.00" y="591.00" width="32.20" height="1.85" fill="#2a3a14"/>
<rect x="348.00" y="592.70" width="32.20" height="11.25" fill="#5c8032"/>
<rect x="348.00" y="603.80" width="32.20" height="3.05" fill="#3a5060"/>
<rect x="348.00" y="606.70" width="32.20" height="2.65" fill="#3a6a30"/>
<rect x="348.00" y="609.20" width="32.20" height="0.95" fill="#10443a"/>
<rect x="348.00" y="610.00" width="32.20" height="7.45" fill="#1e8068"/>
<rect x="348.00" y="617.30" width="32.20" height="5.15" fill="#5c8032"/>
<rect x="348.00" y="622.30" width="32.20" height="0.85" fill="#5a2414"/>
<rect x="348.00" y="623.00" width="32.20" height="9.65" fill="#b0583a"/>
<rect x="348.00" y="578.50" width="0.9" height="3.30" fill="#121a15"/>
<rect x="379.30" y="578.50" width="0.9" height="3.30" fill="#121a15"/>
<rect x="348.00" y="578.50" width="32.20" height="0.8" fill="#121a15"/>
<rect x="348.00" y="581.70" width="0.9" height="2.10" fill="#1a2140"/>
<rect x="379.30" y="581.70" width="0.9" height="2.10" fill="#1a2140"/>
<rect x="348.00" y="581.70" width="32.20" height="0.55" fill="#1a2140"/>
<rect x="348.00" y="583.70" width="0.9" height="4.30" fill="#324861"/>
<rect x="379.30" y="583.70" width="0.9" height="4.30" fill="#324861"/>
<rect x="348.00" y="583.70" width="32.20" height="0.8" fill="#324861"/>
<rect x="348.00" y="587.90" width="0.9" height="3.20" fill="#4f271a"/>
<rect x="379.30" y="587.90" width="0.9" height="3.20" fill="#4f271a"/>
<rect x="348.00" y="587.90" width="32.20" height="0.8" fill="#4f271a"/>
<rect x="348.00" y="591.00" width="0.9" height="1.80" fill="#121a09"/>
<rect x="379.30" y="591.00" width="0.9" height="1.80" fill="#121a09"/>
<rect x="348.00" y="591.00" width="32.20" height="0.55" fill="#121a09"/>
<rect x="348.00" y="592.70" width="0.9" height="11.20" fill="#293916"/>
<rect x="379.30" y="592.70" width="0.9" height="11.20" fill="#293916"/>
<rect x="348.00" y="592.70" width="32.20" height="0.8" fill="#293916"/>
<rect x="348.00" y="603.80" width="0.9" height="3.00" fill="#1a242b"/>
<rect x="379.30" y="603.80" width="0.9" height="3.00" fill="#1a242b"/>
<rect x="348.00" y="603.80" width="32.20" height="0.55" fill="#1a242b"/>
<rect x="348.00" y="606.70" width="0.9" height="2.60" fill="#1a2f15"/>
<rect x="379.30" y="606.70" width="0.9" height="2.60" fill="#1a2f15"/>
<rect x="348.00" y="606.70" width="32.20" height="0.55" fill="#1a2f15"/>
<rect x="348.00" y="609.20" width="0.9" height="0.90" fill="#071e1a"/>
<rect x="379.30" y="609.20" width="0.9" height="0.90" fill="#071e1a"/>
<rect x="348.00" y="610.00" width="0.9" height="7.40" fill="#0d392e"/>
<rect x="379.30" y="610.00" width="0.9" height="7.40" fill="#0d392e"/>
<rect x="348.00" y="610.00" width="32.20" height="0.8" fill="#0d392e"/>
<rect x="348.00" y="617.30" width="0.9" height="5.10" fill="#293916"/>
<rect x="379.30" y="617.30" width="0.9" height="5.10" fill="#293916"/>
<rect x="348.00" y="617.30" width="32.20" height="0.8" fill="#293916"/>
<rect x="348.00" y="622.30" width="0.9" height="0.80" fill="#281009"/>
<rect x="379.30" y="622.30" width="0.9" height="0.80" fill="#281009"/>
<rect x="348.00" y="623.00" width="0.9" height="9.60" fill="#4f271a"/>
<rect x="379.30" y="623.00" width="0.9" height="9.60" fill="#4f271a"/>
<rect x="348.00" y="623.00" width="32.20" height="0.8" fill="#4f271a"/>
<text x="364.20" y="574.50" font-size="8.3" text-anchor="middle">44</text>
<line x1="364.20" y1="632.50" x2="364.20" y2="635.50" stroke="#1a1a1a" stroke-width="1.0"/>
<text x="364.20" y="645.00" font-size="8.3" text-anchor="middle">Week 5</text>
<rect x="397.00" y="554.80" width="32.20" height="3.95" fill="#0c5a40"/>
<rect x="397.00" y="558.60" width="32.20" height="2.15" fill="#4a2020"/>
<rect x="397.00" y="560.60" width="32.20" height="2.05" fill="#3a4a90"/>
<rect x="397.00" y="562.50" width="32.20" height="7.45" fill="#70a0d8"/>
<rect x="397.00" y="569.80" width="32.20" height="2.35" fill="#9a6040"/>
<rect x="397.00" y="572.00" width="32.20" height="4.15" fill="#f08838"/>
<rect x="397.00" y="576.00" width="32.20" height="1.15" fill="#2a3a14"/>
<rect x="397.00" y="577.00" width="32.20" height="10.65" fill="#5c8032"/>
<rect x="397.00" y="587.50" width="32.20" height="2.05" fill="#3a4a40"/>
<rect x="397.00" y="589.40" width="32.20" height="3.45" fill="#2a5a38"/>
<rect x="397.00" y="592.70" width="32.20" height="2.05" fill="#10443a"/>
<rect x="397.00" y="594.60" width="32.20" height="13.25" fill="#1e8068"/>
<rect x="397.00" y="607.70" width="32.20" height="2.05" fill="#1a3a20"/>
<rect x="397.00" y="609.60" width="32.20" height="6.85" fill="#5c8032"/>
<rect x="397.00" y="616.30" width="32.20" height="1.55" fill="#5a2414"/>
<rect x="397.00" y="617.70" width="32.20" height="14.95" fill="#b0583a"/>
<rect x="397.00" y="554.80" width="0.9" height="3.90" fill="#05281c"/>
<rect x="428.30" y="554.80" width="0.9" height="3.90" fill="#05281c"/>
<rect x="397.00" y="554.80" width="32.20" height="0.8" fill="#05281c"/>
<rect x="397.00" y="558.60" width="0.9" height="2.10" fill="#210e0e"/>
<rect x="428.30" y="558.60" width="0.9" height="2.10" fill="#210e0e"/>
<rect x="397.00" y="558.60" width="32.20" height="0.55" fill="#210e0e"/>
<rect x="397.00" y="560.60" width="0.9" height="2.00" fill="#1a2140"/>
<rect x="428.30" y="560.60" width="0.9" height="2.00" fill="#1a2140"/>
<rect x="397.00" y="560.60" width="32.20" height="0.55" fill="#1a2140"/>
<rect x="397.00" y="562.50" width="0.9" height="7.40" fill="#324861"/>
<rect x="428.30" y="562.50" width="0.9" height="7.40" fill="#324861"/>
<rect x="397.00" y="562.50" width="32.20" height="0.8" fill="#324861"/>
<rect x="397.00" y="569.80" width="0.9" height="2.30" fill="#452b1c"/>
<rect x="428.30" y="569.80" width="0.9" height="2.30" fill="#452b1c"/>
<rect x="397.00" y="569.80" width="32.20" height="0.55" fill="#452b1c"/>
<rect x="397.00" y="572.00" width="0.9" height="4.10" fill="#6c3d19"/>
<rect x="428.30" y="572.00" width="0.9" height="4.10" fill="#6c3d19"/>
<rect x="397.00" y="572.00" width="32.20" height="0.8" fill="#6c3d19"/>
<rect x="397.00" y="576.00" width="0.9" height="1.10" fill="#121a09"/>
<rect x="428.30" y="576.00" width="0.9" height="1.10" fill="#121a09"/>
<rect x="397.00" y="577.00" width="0.9" height="10.60" fill="#293916"/>
<rect x="428.30" y="577.00" width="0.9" height="10.60" fill="#293916"/>
<rect x="397.00" y="577.00" width="32.20" height="0.8" fill="#293916"/>
<rect x="397.00" y="587.50" width="0.9" height="2.00" fill="#1a211c"/>
<rect x="428.30" y="587.50" width="0.9" height="2.00" fill="#1a211c"/>
<rect x="397.00" y="587.50" width="32.20" height="0.55" fill="#1a211c"/>
<rect x="397.00" y="589.40" width="0.9" height="3.40" fill="#122819"/>
<rect x="428.30" y="589.40" width="0.9" height="3.40" fill="#122819"/>
<rect x="397.00" y="589.40" width="32.20" height="0.8" fill="#122819"/>
<rect x="397.00" y="592.70" width="0.9" height="2.00" fill="#071e1a"/>
<rect x="428.30" y="592.70" width="0.9" height="2.00" fill="#071e1a"/>
<rect x="397.00" y="592.70" width="32.20" height="0.55" fill="#071e1a"/>
<rect x="397.00" y="594.60" width="0.9" height="13.20" fill="#0d392e"/>
<rect x="428.30" y="594.60" width="0.9" height="13.20" fill="#0d392e"/>
<rect x="397.00" y="594.60" width="32.20" height="0.8" fill="#0d392e"/>
<rect x="397.00" y="607.70" width="0.9" height="2.00" fill="#0b1a0e"/>
<rect x="428.30" y="607.70" width="0.9" height="2.00" fill="#0b1a0e"/>
<rect x="397.00" y="607.70" width="32.20" height="0.55" fill="#0b1a0e"/>
<rect x="397.00" y="609.60" width="0.9" height="6.80" fill="#293916"/>
<rect x="428.30" y="609.60" width="0.9" height="6.80" fill="#293916"/>
<rect x="397.00" y="609.60" width="32.20" height="0.8" fill="#293916"/>
<rect x="397.00" y="616.30" width="0.9" height="1.50" fill="#281009"/>
<rect x="428.30" y="616.30" width="0.9" height="1.50" fill="#281009"/>
<rect x="397.00" y="617.70" width="0.9" height="14.90" fill="#4f271a"/>
<rect x="428.30" y="617.70" width="0.9" height="14.90" fill="#4f271a"/>
<rect x="397.00" y="617.70" width="32.20" height="0.8" fill="#4f271a"/>
<text x="413.00" y="550.70" font-size="8.3" text-anchor="middle">41</text>
<line x1="413.00" y1="632.50" x2="413.00" y2="635.50" stroke="#1a1a1a" stroke-width="1.0"/>
<text x="413.00" y="645.00" font-size="8.3" text-anchor="middle">Week 8</text>
<line x1="283.00" y1="523.90" x2="283.00" y2="633.10" stroke="#1a1a1a" stroke-width="1.2"/>
<line x1="282.40" y1="632.50" x2="443.50" y2="632.50" stroke="#1a1a1a" stroke-width="1.2"/>
<line x1="279.80" y1="524.50" x2="283.00" y2="524.50" stroke="#1a1a1a" stroke-width="1.0"/>
<text x="277.70" y="527.50" font-size="8.3" text-anchor="end">6</text>
<line x1="279.80" y1="560.50" x2="283.00" y2="560.50" stroke="#1a1a1a" stroke-width="1.0"/>
<text x="277.70" y="563.50" font-size="8.3" text-anchor="end">4</text>
<line x1="279.80" y1="596.50" x2="283.00" y2="596.50" stroke="#1a1a1a" stroke-width="1.0"/>
<text x="277.70" y="599.50" font-size="8.3" text-anchor="end">2</text>
<line x1="279.80" y1="632.50" x2="283.00" y2="632.50" stroke="#1a1a1a" stroke-width="1.0"/>
<text x="277.70" y="635.50" font-size="8.3" text-anchor="end">0</text>
<text x="364.00" y="514.20" font-size="8.4" text-anchor="middle">Pt. 25</text>
<text x="256.50" y="578.50" font-size="8.5" text-anchor="middle" transform="rotate(-90 256.50 578.50)">Cumulative frequency of</text>
<text x="268.00" y="578.50" font-size="8.5" text-anchor="middle" transform="rotate(-90 268.00 578.50)">top 50 clones</text>
<text x="365.00" y="658.00" font-size="8.3" text-anchor="middle">Time point</text>
</svg>
</body>
</html>
